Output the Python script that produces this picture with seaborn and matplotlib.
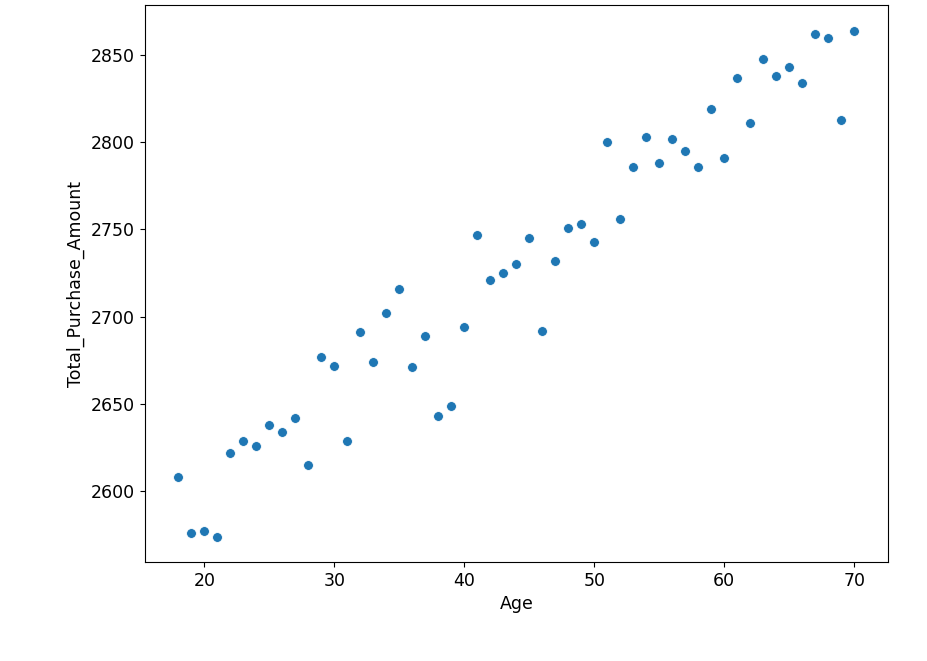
import matplotlib
matplotlib.use("Agg")
import matplotlib.pyplot as plt
import seaborn as sns
import pandas as pd

ages = list(range(18, 71))
totals = [2608, 2576, 2577, 2574, 2622, 2629, 2626, 2638, 2634, 2642,
          2615, 2677, 2672, 2629, 2691, 2674, 2702, 2716, 2671, 2689,
          2643, 2649, 2694, 2747, 2721, 2725, 2730, 2745, 2692, 2732,
          2751, 2753, 2743, 2800, 2756, 2786, 2803, 2788, 2802, 2795,
          2786, 2819, 2791, 2837, 2811, 2848, 2838, 2843, 2834, 2862,
          2860, 2813, 2864]

df = pd.DataFrame({"Age": ages, "Total_Purchase_Amount": totals})

plt.rcParams["font.size"] = 12.5
fig = plt.figure(figsize=(9.27, 6.61), dpi=100)
ax = fig.add_axes([0.156, 0.15, 0.802, 0.842])
sns.scatterplot(data=df, x="Age", y="Total_Purchase_Amount", ax=ax, s=50)
fig.savefig("out.png", dpi=100)
